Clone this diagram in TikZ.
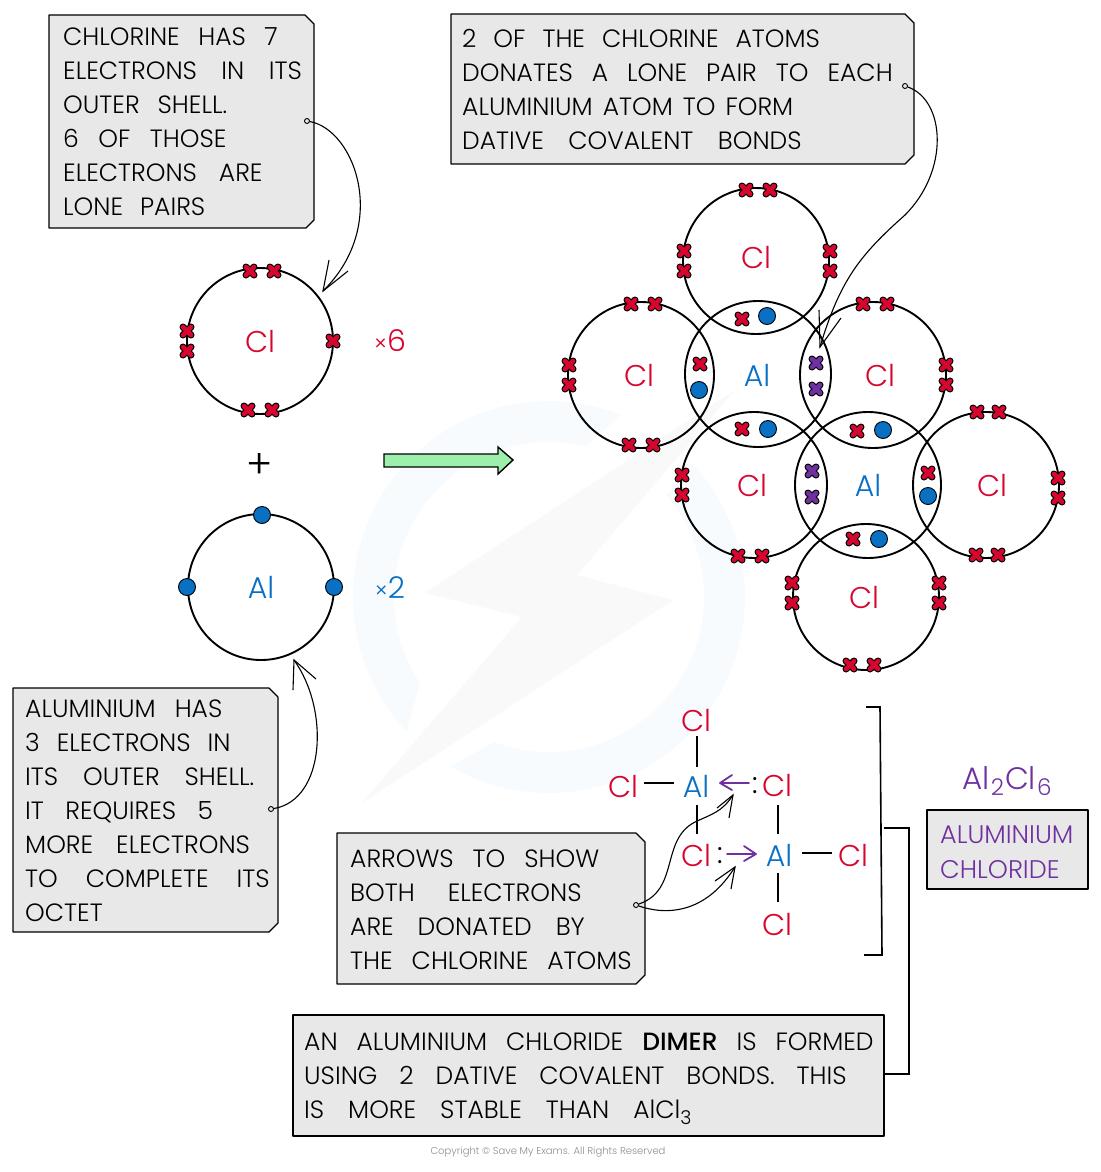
\documentclass[tikz,border=0pt]{standalone}
\usepackage{fontspec}
\setmainfont{Poppins}[UprightFont=* Light,BoldFont=* Medium]
\definecolor{rd}{HTML}{D7062F}
\definecolor{bl}{HTML}{0A70C4}
\definecolor{pu}{HTML}{7030A0}
\definecolor{gn}{HTML}{9DF0AC}
\definecolor{bx}{HTML}{E8E8E8}
\definecolor{wmr}{HTML}{F7FBFE}
\definecolor{wmb}{HTML}{F9F9F9}
\newcommand{\sbs}[2][17]{\raisebox{-6pt}{\fontsize{#1}{#1}\selectfont #2}}
\newcommand{\ws}{\spaceskip=0.68em\relax}
\newcommand{\lw}[2]{{\spaceskip=\dimexpr0.68em+#1pt\relax #2}}
\tikzset{
  orb/.style={draw=black,line width=1.9pt,circle,minimum size=146pt,inner sep=0pt},
  lbl/.style={font=\fontsize{30}{34}\selectfont,inner sep=0pt},
  box/.style={draw=black,fill=bx,line width=1.2pt,line join=round},
  txt/.style={font=\fontsize{25}{34}\selectfont\ws,inner sep=0pt,anchor=west,align=left},
  bond/.style={line width=1.6pt},
  callout/.style={line width=1.1pt},
  xr/.pic={\draw[black,line width=7pt,line cap=round] (-4,-4)--(4,4) (-4,4)--(4,-4);
           \draw[rd,line width=4.6pt,line cap=round] (-4,-4)--(4,4) (-4,4)--(4,-4);},
  xp/.pic={\draw[black,line width=7pt,line cap=round] (-4,-4)--(4,4) (-4,4)--(4,-4);
           \draw[pu,line width=4.6pt,line cap=round] (-4,-4)--(4,4) (-4,4)--(4,-4);},
  dotn/.style={circle,draw=black,line width=0.9pt,fill=bl,minimum size=17pt,inner sep=0pt},
  ringdot/.style={circle,draw=black,line width=0.9pt,minimum size=5pt,inner sep=0pt,fill=none},
}
\begin{document}
\begin{tikzpicture}[x=1pt,y=-1pt]
\useasboundingbox (0,0) rectangle (1100,1172);
% watermark
\fill[wmr,even odd rule] (549,597) circle (196) (549,597) circle (155);
\fill[white] (362,803)--(407,730)--(420,683)--(475,642)--(522,617)--(673,600)--(493,743)--(400,793)--cycle;
\fill[white] (735,390)--(683,407)--(623,413)--(425,593)--(577,575)--(620,552)--(693,463)--cycle;
\fill[wmb] (735,390)--(425,593)--(522,617)--(362,803)--(673,600)--(577,575)--cycle;

% boxes
\draw[box] (49,15)--(305,15)--(314,24)--(314,220)--(306,228)--(49,228)--cycle;
\node[txt] (t1) at (63,122) {\lw{1.5}{CHLORINE HAS 7}\\\lw{7.5}{ELECTRONS IN ITS}\\\lw{1}{OUTER SHELL.}\\\lw{2.5}{6 OF THOSE}\\\lw{5}{ELECTRONS ARE}\\LONE PAIRS};
\draw[box] (451,14)--(905,14)--(914,23)--(914,155)--(905,164)--(451,164)--cycle;
\node[txt] (t2) at (462,89) {2 OF THE CHLORINE ATOMS\\\lw{2}{DONATES A LONE PAIR TO EACH}\\\lw{-7}{ALUMINIUM ATOM TO FORM}\\\lw{7.5}{DATIVE COVALENT BONDS}};
\draw[box] (13,688)--(269,688)--(278,697)--(278,923)--(269,932)--(13,932)--cycle;
\node[txt] (t3) at (25,811) {\lw{2}{ALUMINIUM HAS}\\3 ELECTRONS IN\\\lw{8}{ITS OUTER SHELL.}\\\lw{4.5}{IT REQUIRES 5}\\\lw{6}{MORE ELECTRONS}\\\lw{11}{TO COMPLETE ITS}\\OCTET};
\draw[box] (337,833)--(636,833)--(645,842)--(645,975)--(636,984)--(337,984)--cycle;
\node[txt] (t4) at (350,910) {\lw{2}{ARROWS TO SHOW}\\\lw{16}{BOTH ELECTRONS}\\\lw{7}{ARE DONATED BY}\\\lw{2}{THE CHLORINE ATOMS}};
\draw[box] (293,1015) rectangle (884,1136);
\node[txt] (t5) at (304,1079) {\lw{2}{AN ALUMINIUM CHLORIDE {\bfseries DIMER} IS FORMED}\\\lw{5}{USING 2 DATIVE COVALENT BONDS. THIS}\\\lw{7}{IS MORE STABLE THAN AlCl\sbs[19]{3}}};
\draw[box,line width=1.6pt] (927,810) rectangle (1088,889);
\node[txt,text=pu,font=\fontsize{25.5}{35}\selectfont] (t6) at (940,852) {ALUMINIUM\\CHLORIDE};

% left atoms
\node[orb] (cl0) at (260,341) {};
\node[orb] (al0) at (261,587) {};
\node[lbl,text=rd] (lc0) at (260,341) {Cl};
\node[lbl,text=bl] (la0) at (261,587) {Al};
\node[lbl,text=rd] (m6) at (390,341) {{\fontsize{22}{22}\selectfont ×}6};
\node[lbl,text=bl] (m2) at (390,588) {{\fontsize{22}{22}\selectfont ×}2};
\node[lbl,text=black,font=\fontsize{40}{40}\selectfont] (plus) at (260,466) {+};
\foreach \p in {(250,271),(274,271),(187,331),(187,351),(333,341),(248,410),(272,410)} \pic at \p {xr};
\foreach \p/\n in {(262,515)/a,(187,587)/b,(334,587)/c} \node[dotn] (d\n) at \p {};

% green arrow
\draw[fill=gn,line width=1.4pt,line join=miter] (384,454)--(498,454)--(498,447)--(513,460)--(498,474)--(498,467)--(384,467)--cycle;

% right atoms
\foreach \n/\x/\y in {c1/756/261,a1/758/374,c2/641/375,c3/873/375,c4/754/485,a2/868/485,c5/986/485,c6/866/597}
  \node[orb] (\n) at (\x,\y) {};
\foreach \n/\x/\y in {c1/756/257,c2/639/375,c3/880/375,c4/752/485,c5/992/485,c6/864/597}
  \node[lbl,text=rd] (l\n) at (\x,\y) {Cl};
\node[lbl,text=bl] (la1) at (757,375) {Al};
\node[lbl,text=bl] (la2) at (868,485) {Al};
\foreach \p in {(746,190),(770,190),(684,251),(684,271),(830,251),(830,271),(742,319),
  (631,304),(655,304),(569,365),(569,385),(629,445),(653,445),(700,364),
  (863,304),(887,304),(946,365),(946,385),(742,429),(857,431),
  (682,475),(682,495),(738,556),(762,556),(928,473),
  (977,412),(999,412),(1058,478),(1058,498),(976,555),(998,555),
  (853,539),(792,583),(792,603),(939,583),(939,603),(850,665),(874,665)} \pic at \p {xr};
\foreach \p in {(816,363),(816,389),(812,471),(812,497)} \pic at \p {xp};
\foreach \p/\n in {(767,316)/e,(699,390)/f,(768,429)/g,(883,430)/h,(928,496)/i,(879,539)/j} \node[dotn] (d\n) at \p {};

% structural formula
\node[lbl,text=rd] (s1) at (696,720) {Cl};
\node[lbl,text=rd] (s2) at (623,786) {Cl};
\node[lbl,text=bl] (s3) at (696,786) {Al};
\node[lbl,text=rd] (s4) at (777,785) {Cl};
\node[lbl,text=rd] (s5) at (696,855) {Cl};
\node[lbl,text=bl] (s6) at (779,855) {Al};
\node[lbl,text=rd] (s7) at (853,855) {Cl};
\node[lbl,text=rd] (s8) at (777,924) {Cl};
\node[lbl] (c1d) at (755,786) {:};
\node[lbl] (c2d) at (720,856) {:};
\draw[bond] (s1.south)++(1,5) coordinate (b1a) -- (697,767);
\draw[bond] (644,783)--(674,783);
\draw[bond] (697,805)--(697,834);
\draw[bond] (778,805)--(778,834);
\draw[bond] (802,853)--(832,853);
\draw[bond] (778,873)--(778,902);
\draw[pu,line width=1.8pt,line cap=round,line join=round] (749,783)--(720,783) (732,775)--(720,783)--(732,790);
\draw[pu,line width=1.8pt,line cap=round,line join=round] (727,854)--(756,854) (744,846)--(756,854)--(744,861);

% bracket
\draw[line width=1.6pt] (866,707)--(880,707)--(882,955)--(864,955);
\draw[line width=1.6pt] (884,828)--(909,828)--(909,1074)--(885,1074);
\node[lbl,text=pu,font=\fontsize{31}{34}\selectfont] (f) at (1007,781) {Al\kern1pt\sbs[23]{2}\kern1ptCl\kern1pt\sbs[23]{6}};

% callouts
\node[ringdot] (k1) at (307,121) {};
\coordinate (h1) at (323,291);
\draw[callout] (k1) .. controls (355,130) and (390,225) .. (h1);
\draw[callout] (329,260)--(h1)--(348,271);
\node[ringdot] (k2) at (905,86) {};
\coordinate (h2) at (820,347);
\draw[callout] (k2) .. controls (945,100) and (950,170) .. (905,215) .. controls (860,255) and (840,280) .. (h2);
\draw[callout] (819,310)--(h2)--(841,318);
\node[ringdot] (k3) at (271,809) {};
\coordinate (h3) at (294,660);
\draw[callout] (k3) .. controls (325,800) and (330,710) .. (h3);
\draw[callout] (293,690)--(h3)--(316,679);
\node[ringdot] (k4) at (636,905) {};
\coordinate (h4) at (733,795);
\draw[callout] (k4) .. controls (680,890) and (660,840) .. (695,822) .. controls (712,814) and (722,812) .. (h4);
\draw[callout] (717,808)--(h4)--(729,818);
\coordinate (h5) at (735,867);
\draw[callout] (k4) .. controls (665,915) and (705,915) .. (h5);
\draw[callout] (715,881)--(h5)--(731,889);

\node[text=black!45,font=\fontsize{10}{12}\selectfont,inner sep=0pt] (copy) at (548,1152) {Copyright © Save My Exams. All Rights Reserved};
\end{tikzpicture}
\end{document}
